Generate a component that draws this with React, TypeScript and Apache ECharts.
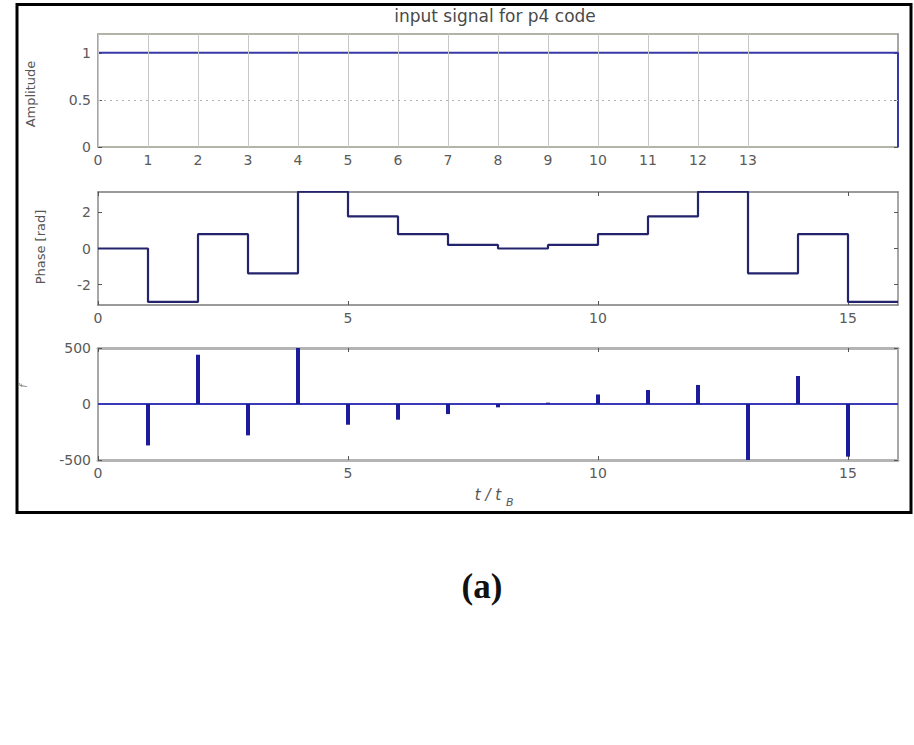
import React, { useEffect, useRef } from "react";
import * as echarts from "echarts";

// ---- data ----
const ampTimes = [0, 16, 16];
const ampValues = [1, 1, 0];

const phaseTimes = [0, 1, 2, 3, 4, 5, 6, 7, 8, 9, 10, 11, 12, 13, 14, 15, 16];
const phaseValues = [0, -2.95, 0.79, -1.37, 3.14, 1.77, 0.79, 0.2, 0, 0.2, 0.79, 1.77, 3.14, -1.37, 0.79, -2.95, -2.95];

const freqTimes = [1, 2, 3, 4, 5, 6, 7, 8, 9, 10, 11, 12, 13, 14, 15];
const freqValues = [-370, 440, -280, 500, -185, -140, -90, -30, 12, 85, 125, 170, -500, 250, -470];
const freqBaseTimes = [0, 16];
const freqBaseValues = [0, 0];

const ampXTicks = [0, 1, 2, 3, 4, 5, 6, 7, 8, 9, 10, 11, 12, 13];
const ampYTicks = [0, 0.5, 1];
const ampGridY = [0.5];
const lowerXTicks = [0, 5, 10, 15];
const phaseYTicks = [-2, 0, 2];
const freqYTicks = [-500, 0, 500];

const TITLE = "input signal for p4 code";
const AMP_LABEL = "Amplitude";
const PHASE_LABEL = "Phase [rad]";
const FREQ_LABEL = "f";
const X_LABEL = "t / t";
const X_LABEL_SUB = "B";
const CAPTION = "(a)";

const FONT = "DejaVu Sans";
const LABEL_COLOR = "#5a5a5a";

function boxAxes(
  gridIndex: number,
  xMin: number,
  xMax: number,
  yMin: number,
  yMax: number,
  xTicks: number[],
  yTicks: number[],
  frameColor: string,
  frameWidth: number,
  yFmt: (v: number) => string
) {
  const tick = { show: true, inside: true, length: 4, lineStyle: { color: "#555", width: 1 }, customValues: xTicks };
  const ytick = { show: true, inside: true, length: 4, lineStyle: { color: "#555", width: 1 }, customValues: yTicks };
  const xLabel = {
    show: true,
    customValues: xTicks,
    fontFamily: FONT,
    fontSize: 14,
    color: LABEL_COLOR,
    margin: 6,
    formatter: (v: number) => String(v),
  };
  const yLabel = {
    show: true,
    customValues: yTicks,
    fontFamily: FONT,
    fontSize: 14,
    color: LABEL_COLOR,
    margin: 7,
    formatter: yFmt,
  };
  const xAxes = [
    {
      type: "value",
      gridIndex,
      position: "bottom",
      min: xMin,
      max: xMax,
      axisLine: { show: true, onZero: false, lineStyle: { color: frameColor, width: frameWidth } },
      axisTick: tick,
      axisLabel: xLabel,
      splitLine: { show: false },
    },
    {
      type: "value",
      gridIndex,
      position: "top",
      min: xMin,
      max: xMax,
      axisLine: { show: true, onZero: false, lineStyle: { color: frameColor, width: frameWidth } },
      axisTick: tick,
      axisLabel: { show: false },
      splitLine: { show: false },
    },
  ];
  const yAxes = [
    {
      type: "value",
      gridIndex,
      position: "left",
      min: yMin,
      max: yMax,
      axisLine: { show: true, onZero: false, lineStyle: { color: "#8a8a8a", width: 1.5 } },
      axisTick: ytick,
      axisLabel: yLabel,
      splitLine: { show: false },
    },
    {
      type: "value",
      gridIndex,
      position: "right",
      min: yMin,
      max: yMax,
      axisLine: { show: true, onZero: false, lineStyle: { color: "#8a8a8a", width: 1.5 } },
      axisTick: ytick,
      axisLabel: { show: false },
      splitLine: { show: false },
    },
  ];
  return { xAxes, yAxes };
}

export default function App() {
  const ref = useRef<HTMLDivElement>(null);

  useEffect(() => {
    if (!ref.current) return;
    const chart = echarts.init(ref.current, null, { renderer: "svg" });

    const a = boxAxes(0, 0, 16, 0, 1.2, ampXTicks, ampYTicks, "#9a9a8a", 1.5, (v) => String(v));
    const p = boxAxes(1, 0, 16, -3.12, 3.12, lowerXTicks, phaseYTicks, "#7a7a7a", 1.5, (v) => String(v));
    const f = boxAxes(2, 0, 16, -500, 500, lowerXTicks, freqYTicks, "#b4b4b4", 3, (v) => String(v));

    const xAxis = [...a.xAxes, ...p.xAxes, ...f.xAxes];
    const yAxis = [...a.yAxes, ...p.yAxes, ...f.yAxes];

    const option: any = {
      animation: false,
      backgroundColor: "#ffffff",
      grid: [
        { left: 98, top: 34, width: 800, height: 113 },
        { left: 98, top: 192, width: 800, height: 113 },
        { left: 98, top: 348, width: 800, height: 112 },
      ],
      xAxis,
      yAxis,
      series: [
        // grid lines of the top panel
        {
          type: "line",
          xAxisIndex: 0,
          yAxisIndex: 0,
          data: [],
          z: 1,
          silent: true,
          markLine: {
            silent: true,
            symbol: "none",
            label: { show: false },
            animation: false,
            data: [
              ...ampXTicks.map((v) => ({ xAxis: v, lineStyle: { color: "#c8c8c8", width: 1, type: "solid" } })),
              ...ampGridY.map((v) => ({ yAxis: v, lineStyle: { color: "#b0b0b0", width: 1, type: [2, 4] } })),
            ],
          },
        },
        {
          type: "line",
          xAxisIndex: 0,
          yAxisIndex: 0,
          data: ampTimes.map((t, i) => [t, ampValues[i]]),
          showSymbol: false,
          symbol: "none",
          z: 3,
          lineStyle: { color: "#3838a8", width: 2 },
        },
        {
          type: "line",
          xAxisIndex: 2,
          yAxisIndex: 2,
          data: phaseTimes.map((t, i) => [t, phaseValues[i]]),
          step: "end",
          showSymbol: false,
          symbol: "none",
          clip: true,
          z: 3,
          lineStyle: { color: "#24246e", width: 2.2 },
        },
        {
          type: "line",
          xAxisIndex: 4,
          yAxisIndex: 4,
          data: freqBaseTimes.map((t, i) => [t, freqBaseValues[i]]),
          showSymbol: false,
          symbol: "none",
          z: 2,
          lineStyle: { color: "#3a3ab8", width: 2 },
        },
        {
          type: "bar",
          xAxisIndex: 4,
          yAxisIndex: 4,
          data: freqTimes.map((t, i) => [t, freqValues[i]]),
          barWidth: 4,
          z: 3,
          itemStyle: { color: "#1c1c9a" },
        },
      ],
      graphic: [
        {
          type: "rect",
          shape: { x: 17, y: 4.5, width: 894, height: 508 },
          style: { fill: "none", stroke: "#000", lineWidth: 3 },
          z: 100,
        },
        {
          type: "text",
          x: 495,
          y: 16,
          style: {
            text: TITLE,
            font: `17px "${FONT}"`,
            fill: "#4a4a4a",
            align: "center",
            verticalAlign: "middle",
            textAlign: "center",
            textVerticalAlign: "middle",
          },
        },
        {
          type: "text",
          x: 30,
          y: 94,
          rotation: Math.PI / 2,
          style: {
            text: AMP_LABEL,
            font: `13px "${FONT}"`,
            fill: "#555",
            align: "center",
            verticalAlign: "middle",
            textAlign: "center",
            textVerticalAlign: "middle",
          },
        },
        {
          type: "text",
          x: 40,
          y: 247,
          rotation: Math.PI / 2,
          style: {
            text: PHASE_LABEL,
            font: `13px "${FONT}"`,
            fill: "#555",
            align: "center",
            verticalAlign: "middle",
            textAlign: "center",
            textVerticalAlign: "middle",
          },
        },
        {
          type: "text",
          x: 23,
          y: 386,
          rotation: Math.PI / 2,
          style: {
            text: FREQ_LABEL,
            font: `italic 10px "${FONT}"`,
            fill: "#888",
            align: "center",
            verticalAlign: "middle",
            textAlign: "center",
            textVerticalAlign: "middle",
          },
        },
        {
          type: "text",
          x: 488,
          y: 495,
          style: {
            text: X_LABEL,
            font: `italic 15px "${FONT}"`,
            fill: "#555",
            align: "center",
            verticalAlign: "middle",
            textAlign: "center",
            textVerticalAlign: "middle",
          },
        },
        {
          type: "text",
          x: 506,
          y: 502,
          style: {
            text: X_LABEL_SUB,
            font: `italic 11px "${FONT}"`,
            fill: "#555",
            align: "left",
            verticalAlign: "middle",
            textAlign: "left",
            textVerticalAlign: "middle",
          },
        },
        {
          type: "text",
          x: 482,
          y: 586,
          style: {
            text: CAPTION,
            font: `bold 35px "Liberation Serif"`,
            fill: "#111",
            align: "center",
            verticalAlign: "middle",
            textAlign: "center",
            textVerticalAlign: "middle",
          },
        },
      ],
    };

    chart.setOption(option);
    return () => chart.dispose();
  }, []);

  return (
    <div
      ref={ref}
      style={{ position: "fixed", left: 0, top: 0, width: 914, height: 745, background: "#fff" }}
    />
  );
}
